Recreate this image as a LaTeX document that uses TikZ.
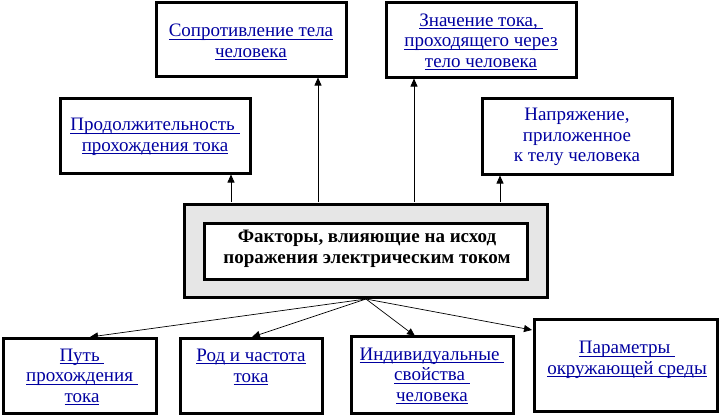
\documentclass[tikz,border=0pt]{standalone}
\usepackage{fontspec}
\setmainfont{Liberation Serif}
\usetikzlibrary{arrows.meta,calc}
\definecolor{lnk}{RGB}{0,0,160}
\definecolor{shade}{RGB}{230,230,230}
\newcommand\ulx[1]{\setbox0\hbox{#1}\rlap{\rule[-2.8pt]{\wd0}{0.9pt}}\box0}
\tikzset{
  fbox/.style={draw=black,line width=3pt,fill=white,inner sep=0pt},
  ftext/.style={text=lnk,align=center,font=\fontsize{19}{20.5}\selectfont},
  btext/.style={text=black,align=center,font=\fontsize{19}{21}\selectfont\bfseries},
  conn/.style={draw=black,line width=0.7pt,-{Triangle[length=8pt,width=7pt]}}
}
\begin{document}
\begin{tikzpicture}[x=1pt,y=-1pt]
\useasboundingbox (0,0) rectangle (719,415);
% central
\node[fbox,fill=shade,minimum width=363pt,minimum height=93pt] (outer) at (366,251) {};
\node[fbox,minimum width=323pt,minimum height=56pt] (inner) at (366,251) {};
\node[btext] (intext) at (367,249) {Факторы, влияющие на исход\\поражения электрическим током};
% top boxes
\node[fbox,minimum width=190pt,minimum height=74pt] (sopr) at (251,39) {};
\node[ftext] at (251,42) {\ulx{Сопротивление тела}\\\ulx{человека}};
\node[fbox,minimum width=190pt,minimum height=75pt] (prod) at (155,135.5) {};
\node[ftext] at (155,137) {\ulx{Продолжительность\ }\\\ulx{прохождения тока}};
\node[fbox,minimum width=190pt,minimum height=75pt] (znach) at (481,39.5) {};
\node[ftext] at (481,42) {\ulx{Значение тока,\ }\\\ulx{проходящего через}\\\ulx{тело человека}};
\node[fbox,minimum width=190pt,minimum height=76pt] (napr) at (577,136) {};
\node[ftext] at (577,137) {Напряжение,\\приложенное\\к телу человека};
% bottom boxes
\node[fbox,minimum width=153pt,minimum height=75pt] (put) at (79.5,375.5) {};
\node[ftext] at (82,377) {\ulx{Путь\ }\\\ulx{прохождения\ }\\\ulx{тока}};
\node[fbox,minimum width=142pt,minimum height=75pt] (rod) at (251,375.5) {};
\node[ftext] at (251,367) {\ulx{Род и частота}\\\ulx{тока}};
\node[fbox,minimum width=162pt,minimum height=77pt] (indiv) at (432,374.5) {};
\node[ftext] at (432,376) {\ulx{Индивидуальные\ }\\\ulx{свойства\ }\\\ulx{человека}};
\node[fbox,minimum width=183pt,minimum height=92pt] (param) at (625.5,365) {};
\node[ftext] at (627,360) {\ulx{Параметры\ }\\\ulx{окружающей среды}};
% connector endpoints
\coordinate (a1) at (231,202);
\coordinate (a2) at (318,202);
\coordinate (a3) at (414,202);
\coordinate (a4) at (500,202);
\coordinate (tp) at (90,337);
\coordinate (tr) at (252,337);
\coordinate (ti) at (415,336);
\coordinate (tq) at (532,330);
% connectors up
\draw[conn] (a1) -- (a1 |- prod.south);
\draw[conn] (a2) -- (a2 |- sopr.south);
\draw[conn] (a3) -- (a3 |- znach.south);
\draw[conn] (a4) -- (a4 |- napr.south);
% connectors down
\draw[conn] (outer.south) -- (tp);
\draw[conn] (outer.south) -- (tr);
\draw[conn] (outer.south) -- (ti);
\draw[conn] (outer.south) -- (tq);
\end{tikzpicture}
\end{document}
